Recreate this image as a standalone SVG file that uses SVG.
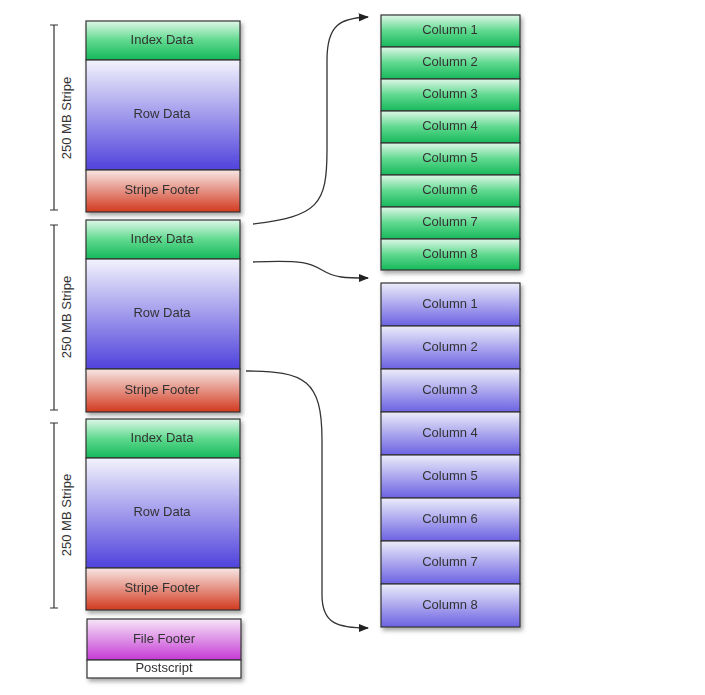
<svg xmlns="http://www.w3.org/2000/svg" width="705" height="695" viewBox="0 0 705 695">
<defs>
<linearGradient id="g" x1="0" y1="0" x2="0" y2="1"><stop offset="0" stop-color="#dff7e8"/><stop offset="0.5" stop-color="#5fd98e"/><stop offset="1" stop-color="#16b85a"/></linearGradient>
<linearGradient id="b" x1="0" y1="0" x2="0" y2="1"><stop offset="0" stop-color="#f3f3fc"/><stop offset="1" stop-color="#4f42dc"/></linearGradient>
<linearGradient id="bc" x1="0" y1="0" x2="0" y2="1"><stop offset="0" stop-color="#ececfa"/><stop offset="1" stop-color="#6b62e2"/></linearGradient>
<linearGradient id="r" x1="0" y1="0" x2="0" y2="1"><stop offset="0" stop-color="#f7e6e4"/><stop offset="1" stop-color="#d2391f"/></linearGradient>
<linearGradient id="p" x1="0" y1="0" x2="0" y2="1"><stop offset="0" stop-color="#f7e6f7"/><stop offset="1" stop-color="#c43ad6"/></linearGradient>
<marker id="ah" viewBox="0 0 10 10" refX="9" refY="5" markerWidth="8" markerHeight="8" orient="auto"><path d="M0,1 L10,5 L0,9 z" fill="#222"/></marker>
<filter id="sh" x="-10%" y="-10%" width="130%" height="130%"><feDropShadow dx="2" dy="3" stdDeviation="2" flood-opacity="0.35"/></filter>
</defs>
<style>
rect{stroke:#333;stroke-width:1.2}
text{font-family:"Liberation Sans",Arial,sans-serif;font-size:13px;fill:#333;text-anchor:middle;dominant-baseline:middle}
.br{stroke:#333;stroke-width:1.2;fill:none}
.c{fill:none;stroke:#333;stroke-width:1.3}
</style>
<g id="stripe1" filter="url(#sh)">
<rect x="86" y="21" width="154" height="39" fill="url(#g)"/><text x="162" y="41">Index Data</text>
<rect x="86" y="60" width="154" height="110" fill="url(#b)"/><text x="162" y="115">Row Data</text>
<rect x="86" y="170" width="154" height="42" fill="url(#r)"/><text x="162" y="191">Stripe Footer</text>
</g>
<g id="stripe2" filter="url(#sh)">
<rect x="86" y="220" width="154" height="39" fill="url(#g)"/><text x="162" y="240">Index Data</text>
<rect x="86" y="259" width="154" height="110" fill="url(#b)"/><text x="162" y="314">Row Data</text>
<rect x="86" y="369" width="154" height="43" fill="url(#r)"/><text x="162" y="391">Stripe Footer</text>
</g>
<g id="stripe3" filter="url(#sh)">
<rect x="86" y="419" width="154" height="39" fill="url(#g)"/><text x="162" y="439">Index Data</text>
<rect x="86" y="458" width="154" height="110" fill="url(#b)"/><text x="162" y="513">Row Data</text>
<rect x="86" y="568" width="154" height="42" fill="url(#r)"/><text x="162" y="589">Stripe Footer</text>
</g>
<g id="footer" filter="url(#sh)">
<rect x="87" y="619" width="154" height="41" fill="url(#p)"/><text x="164" y="640">File Footer</text>
<rect x="87" y="660" width="154" height="18" fill="#fff"/><text x="164" y="669">Postscript</text>
</g>
<g id="brackets">
<path class="br" d="M54,25V210M50,25H58M50,210H58"/>
<text transform="translate(68,118) rotate(-90)">250 MB Stripe</text>
<path class="br" d="M54,225V410M50,225H58M50,410H58"/>
<text transform="translate(68,317) rotate(-90)">250 MB Stripe</text>
<path class="br" d="M54,423V608M50,423H58M50,608H58"/>
<text transform="translate(68,515) rotate(-90)">250 MB Stripe</text>
</g>
<g id="indexcols" filter="url(#sh)">
<rect x="381" y="15" width="139" height="32" fill="url(#g)"/><text x="450" y="31">Column 1</text>
<rect x="381" y="47" width="139" height="32" fill="url(#g)"/><text x="450" y="63">Column 2</text>
<rect x="381" y="79" width="139" height="32" fill="url(#g)"/><text x="450" y="95">Column 3</text>
<rect x="381" y="111" width="139" height="32" fill="url(#g)"/><text x="450" y="127">Column 4</text>
<rect x="381" y="143" width="139" height="32" fill="url(#g)"/><text x="450" y="159">Column 5</text>
<rect x="381" y="175" width="139" height="32" fill="url(#g)"/><text x="450" y="191">Column 6</text>
<rect x="381" y="207" width="139" height="32" fill="url(#g)"/><text x="450" y="223">Column 7</text>
<rect x="381" y="239" width="139" height="31" fill="url(#g)"/><text x="450" y="255">Column 8</text>
</g>
<g id="rowcols" filter="url(#sh)">
<rect x="381" y="283" width="139" height="43" fill="url(#bc)"/><text x="450" y="305">Column 1</text>
<rect x="381" y="326" width="139" height="43" fill="url(#bc)"/><text x="450" y="348">Column 2</text>
<rect x="381" y="369" width="139" height="43" fill="url(#bc)"/><text x="450" y="391">Column 3</text>
<rect x="381" y="412" width="139" height="43" fill="url(#bc)"/><text x="450" y="434">Column 4</text>
<rect x="381" y="455" width="139" height="43" fill="url(#bc)"/><text x="450" y="477">Column 5</text>
<rect x="381" y="498" width="139" height="43" fill="url(#bc)"/><text x="450" y="520">Column 6</text>
<rect x="381" y="541" width="139" height="43" fill="url(#bc)"/><text x="450" y="563">Column 7</text>
<rect x="381" y="584" width="139" height="43" fill="url(#bc)"/><text x="450" y="606">Column 8</text>
</g>
<g id="connectors">
<path class="c" marker-end="url(#ah)" d="M253,224 C318,216 327,205 327,150 L327,60 C327,25 340,18 368,17"/>
<path class="c" marker-end="url(#ah)" d="M253,262 C305,260 310,263 322,270 C335,278 345,278 368,278"/>
<path class="c" marker-end="url(#ah)" d="M246,371 C305,371 322,380 322,440 L322,595 C322,624 338,628 368,628"/>
</g>
</svg>
